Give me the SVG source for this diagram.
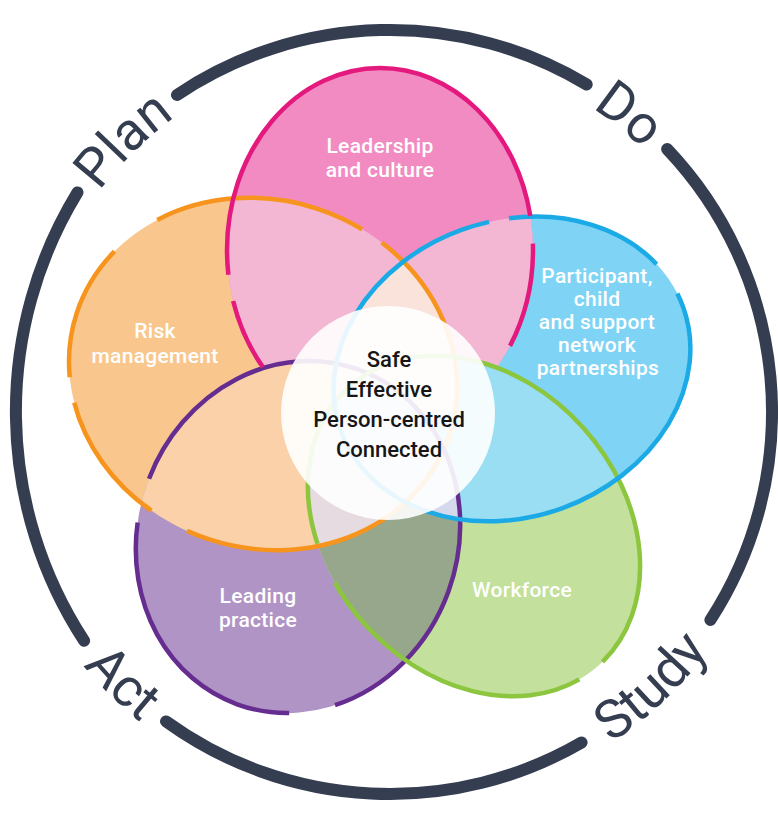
<svg xmlns="http://www.w3.org/2000/svg" xmlns:xlink="http://www.w3.org/1999/xlink" width="778" height="832" viewBox="0 0 778 832">
<style>
.ring{fill:none;stroke:#353d50;stroke-width:12;stroke-linecap:round}
.pdca{font-family:Roboto,"Liberation Sans",sans-serif;font-size:54px;fill:#353d50}
.lbl{font-family:Roboto,"Liberation Sans",sans-serif;font-size:21px;font-weight:500;fill:#ffffff;text-anchor:middle;letter-spacing:0.3px}
.ctr{font-family:Roboto,"Liberation Sans",sans-serif;font-size:22px;font-weight:500;fill:#161616;text-anchor:middle}
.st{fill:none;stroke-width:4.5}
</style>
<defs>
<ellipse id="eP" cx="380" cy="250" rx="153" ry="182"/>
<ellipse id="eB" cx="0" cy="0" rx="182" ry="148" transform="translate(512 369) rotate(-20)"/>
<ellipse id="eG" cx="0" cy="0" rx="187" ry="147" transform="translate(474 526) rotate(48)"/>
<ellipse id="eU" cx="0" cy="0" rx="178" ry="160" transform="translate(298 537) rotate(110)"/>
<ellipse id="eO" cx="0" cy="0" rx="196" ry="174" transform="translate(263 374) rotate(18)"/>
<clipPath id="cP"><use xlink:href="#eP"/></clipPath>
<clipPath id="cB"><use xlink:href="#eB"/></clipPath>
<clipPath id="cG"><use xlink:href="#eG"/></clipPath>
<clipPath id="cU"><use xlink:href="#eU"/></clipPath>
<clipPath id="cO"><use xlink:href="#eO"/></clipPath>
<path id="tpPlan" d="M 36.5 502.8 A 365 365 0 0 1 488.1 60.4"/>
<path id="tpDo" d="M 258.0 71.7 A 365 365 0 0 1 750.7 467.8"/>
<path id="tpStudy" d="M 277.0 793.6 A 398 398 0 0 0 777.0 319.1"/>
<path id="tpAct" d="M 4.9 311.7 A 398 398 0 0 0 495.7 795.7"/>
</defs>
<rect width="778" height="832" fill="#ffffff"/>

<g id="cycle">
<path class="ring" d="M 84.1 640.8 A 420 420 0 0 1 77.5 192.4"/>
<path class="ring" d="M 177.0 94.9 A 382 382 0 0 1 586.7 84.5"/>
<path class="ring" d="M 667.1 149.0 A 382 382 0 0 1 710.4 620.0"/>
<path class="ring" d="M 581.6 742.5 A 382 382 0 0 1 166.0 721.4"/>
<text class="pdca"><textPath xlink:href="#tpPlan" startOffset="50%" text-anchor="middle">Plan</textPath></text>
<text class="pdca"><textPath xlink:href="#tpDo" startOffset="50%" text-anchor="middle">Do</textPath></text>
<text class="pdca"><textPath xlink:href="#tpStudy" startOffset="50%" text-anchor="middle">Study</textPath></text>
<text class="pdca"><textPath xlink:href="#tpAct" startOffset="50%" text-anchor="middle">Act</textPath></text>
</g>

<g id="fills">
<use xlink:href="#eO" fill="#f9c78d"/>
<use xlink:href="#eU" fill="#b094c6"/>
<use xlink:href="#eG" fill="#c3e09c"/>
<use xlink:href="#eB" fill="#7fd4f5"/>
<use xlink:href="#eP" fill="#f18bc2"/>
<g clip-path="url(#cP)"><use xlink:href="#eO" fill="#f3b7d3"/><use xlink:href="#eB" fill="#f3b7d3"/></g>
<g clip-path="url(#cB)"><use xlink:href="#eG" fill="#99def3"/></g>
<g clip-path="url(#cG)"><use xlink:href="#eU" fill="#96a78c"/></g>
<g clip-path="url(#cU)"><use xlink:href="#eO" fill="#fad1a9"/></g>
<g clip-path="url(#cP)"><g clip-path="url(#cO)"><use xlink:href="#eB" fill="#f9e3da"/></g></g>
<g clip-path="url(#cO)"><g clip-path="url(#cU)"><use xlink:href="#eG" fill="#e6dbe0"/></g></g>
<g clip-path="url(#cB)"><g clip-path="url(#cG)"><use xlink:href="#eU" fill="#d6d9ee"/></g></g>
</g>

<g id="petal-risk"><ellipse class="st" stroke="#f7941d" cx="0" cy="0" rx="196" ry="174" transform="translate(263 374) rotate(18)" pathLength="360" stroke-dasharray="97.4 12.7 41.9 8 42.7 16.5 66.3 7.3 67.2"/></g>
<g id="petal-leading"><ellipse class="st" stroke="#662d91" cx="0" cy="0" rx="178" ry="160" transform="translate(298 537) rotate(110)" pathLength="360" stroke-dasharray="75.9 15.4 234.9 15.8 18"/></g>
<g id="petal-workforce"><ellipse class="st" stroke="#8cc63f" cx="0" cy="0" rx="187" ry="147" transform="translate(474 526) rotate(48)" pathLength="360" stroke-dasharray="0 8.4 99.2 14.6 236.2 1.6"/></g>
<g id="petal-participant"><ellipse class="st" stroke="#1baae6" cx="0" cy="0" rx="182" ry="148" transform="translate(512 369) rotate(-20)" pathLength="360" stroke-dasharray="280 7 55.5 12.5 5"/></g>
<g id="petal-leadership"><ellipse class="st" stroke="#e4197e" cx="380" cy="250" rx="153" ry="182" pathLength="360" stroke-dasharray="34 103.5 24.9 9.1 176.8 9.5 2.2"/></g>

<g id="centre">
<circle cx="388" cy="413" r="107" fill="#ffffff" fill-opacity="0.9"/>
<text class="ctr" x="389" y="367">Safe</text>
<text class="ctr" x="389" y="397">Effective</text>
<text class="ctr" x="389" y="427">Person-centred</text>
<text class="ctr" x="389" y="457">Connected</text>
</g>

<g id="labels">
<text class="lbl" x="380" y="153">Leadership</text>
<text class="lbl" x="380" y="177">and culture</text>
<text class="lbl" x="597" y="283">Participant,</text>
<text class="lbl" x="597" y="306">child</text>
<text class="lbl" x="597" y="329">and support</text>
<text class="lbl" x="597" y="352">network</text>
<text class="lbl" x="598" y="375">partnerships</text>
<text class="lbl" x="155" y="338">Risk</text>
<text class="lbl" x="155" y="363">management</text>
<text class="lbl" x="258" y="603">Leading</text>
<text class="lbl" x="258" y="627">practice</text>
<text class="lbl" x="522" y="597">Workforce</text>
</g>
</svg>
